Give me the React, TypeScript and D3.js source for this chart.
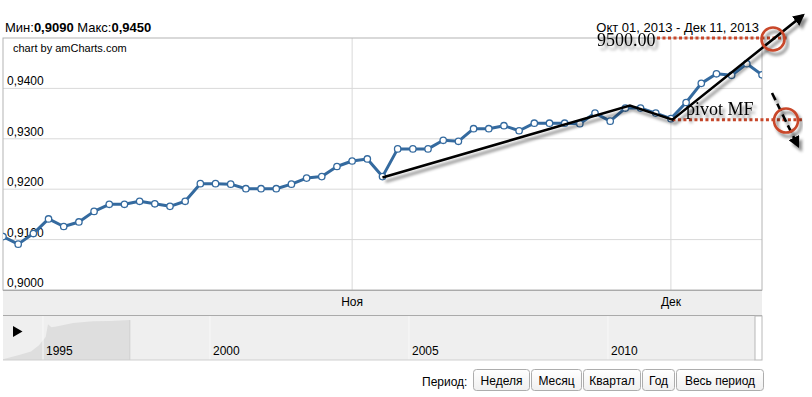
import React from "react";
import * as d3 from "d3";

// ---- data ----
const values: number[] = [
  0.9106, 0.9091, 0.9112, 0.9141, 0.9126, 0.9135, 0.9156, 0.917, 0.917, 0.9176,
  0.9171, 0.9166, 0.9176, 0.9211, 0.9211, 0.921, 0.9201, 0.9201, 0.9201, 0.921,
  0.9222, 0.9225, 0.9245, 0.9256, 0.926, 0.9225, 0.928, 0.928, 0.928, 0.9297,
  0.9295, 0.932, 0.932, 0.9326, 0.9316, 0.9331, 0.9331, 0.9331, 0.933, 0.9351,
  0.9335, 0.9361, 0.9361, 0.9351, 0.934, 0.9372, 0.941, 0.9429, 0.9426, 0.9449,
  0.9427,
];
const yTicks: number[] = [0.9, 0.91, 0.92, 0.93, 0.94];
const monthLabels: string[] = ["Ноя", "Дек"];
const monthIndex: number[] = [23, 44];
const scrollYears: number[] = [1995, 2000, 2005, 2010];
const historyYears: number[] = [1994.0, 1994.4, 1994.7, 1994.9, 1995.08, 1995.15, 1995.25, 1995.4, 1995.9, 1996.5, 1997.0, 1997.6];
const historyValues: number[] = [0.02, 0.12, 0.2, 0.35, 0.55, 0.85, 0.78, 0.8, 0.88, 0.92, 0.93, 0.95];
const periodButtons: string[] = ["Неделя", "Месяц", "Квартал", "Год", "Весь период"];
const minValue = "0,9090";
const maxValue = "0,9450";
const dateRange = "Окт 01, 2013 - Дек 11, 2013";
// annotation trend line (index, value)
const trendIdx: number[] = [25, 41.3, 44.1, 52.7];
const trendVal: number[] = [0.9223, 0.9366, 0.9338, 0.9545];
const level1 = 0.95;
const level2 = 0.9338;

const W = 812;
const H = 397;
const L = 3, R = 762, T = 38, B = 290;
const SANS = "'Liberation Sans', Arial, sans-serif";
const SERIF = "'Liberation Serif', 'Times New Roman', serif";
const BLUE = "#346a9f";
const RED = "#c9472a";

export default function App() {
  const x = d3.scaleLinear().domain([0, values.length - 1]).range([L, R]);
  const y = d3.scaleLinear().domain([0.9, 0.95]).range([B, T]);
  const line = d3.line<number>().x((_, i) => x(i)).y((d) => y(d));

  const yrX = d3.scaleLinear().domain([1994, 1995, 2000, 2010]).range([L, 43, 210, 608]);
  const hy = d3.scaleLinear().domain([0, 1]).range([360, 318]);
  const area = d3
    .area<number>()
    .x((_, i) => yrX(historyYears[i]))
    .y0(360)
    .y1((d) => hy(d));

  const trend = d3.line<number>().x((d) => x(d)).y((_, i) => y(trendVal[i]));
  const trendPts = trendIdx.slice(0, 4);

  // buttons layout
  const btnW = [56, 50, 57, 32, 87];
  const btnStarts: number[] = [];
  let acc = 473;
  btnW.forEach((w) => {
    btnStarts.push(acc);
    acc += w + 2;
  });

  return (
    <svg width={W} height={H} style={{ position: "absolute", left: 0, top: 0, background: "#fff" }}>
      <defs>
        <clipPath id="plotclip">
          <rect x={L} y={T} width={R - L} height={B - T} />
        </clipPath>
        <filter id="shadow" x="-20%" y="-20%" width="140%" height="160%">
          <feDropShadow dx="3" dy="4" stdDeviation="1.6" floodColor="#000" floodOpacity="0.45" />
        </filter>
        <marker id="arrow" viewBox="0 0 10 10" refX="8" refY="5" markerWidth="4.5" markerHeight="4.5" orient="auto">
          <path d="M0,0 L10,5 L0,10 z" fill="#000" />
        </marker>
        <linearGradient id="btn" x1="0" y1="0" x2="0" y2="1">
          <stop offset="0" stopColor="#ffffff" />
          <stop offset="1" stopColor="#f0f0f0" />
        </linearGradient>
      </defs>

      {/* header */}
      <text x={5} y={32} fontFamily={SANS} fontSize={13} fill="#000">
        <tspan>Мин:</tspan>
        <tspan fontWeight="bold">{minValue}</tspan>
        <tspan> Макс:</tspan>
        <tspan fontWeight="bold">{maxValue}</tspan>
      </text>
      <text x={759} y={32} textAnchor="end" fontFamily={SANS} fontSize={13} fill="#000">
        {dateRange}
      </text>

      {/* grid */}
      {yTicks.slice(1).map((t) => (
        <line key={t} x1={L} x2={R} y1={y(t)} y2={y(t)} stroke="#d9d9d9" />
      ))}
      {monthIndex.map((m) => (
        <line key={m} x1={x(m)} x2={x(m)} y1={T} y2={B} stroke="#d9d9d9" />
      ))}
      <rect x={L} y={T} width={R - L} height={B - T} fill="none" stroke="#b4b4b4" />

      <text x={13} y={52} fontFamily={SANS} fontSize={11} fill="#000">
        chart by amCharts.com
      </text>

      {yTicks.map((t) => (
        <text key={"l" + t} x={7} y={y(t) - 3} fontFamily={SANS} fontSize={12} fill="#000">
          {d3.format(".4f")(t).replace(".", ",")}
        </text>
      ))}

      {/* data */}
      <g clipPath="url(#plotclip)">
        <path d={line(values) || ""} fill="none" stroke={BLUE} strokeWidth={3} strokeLinejoin="round" />
        {values.map((v, i) => (
          <circle key={i} cx={x(i)} cy={y(v)} r={3.2} fill="#fff" stroke={BLUE} strokeWidth={1.3} />
        ))}
      </g>

      {/* category axis band */}
      <rect x={L} y={B} width={R - L} height={25} fill="#eeeeee" />
      <line x1={L} x2={R} y1={B + 0.5} y2={B + 0.5} stroke="#aaaaaa" />
      <line x1={L} x2={R} y1={315.5} y2={315.5} stroke="#aaaaaa" />
      {monthIndex.map((m, i) => (
        <text key={"m" + m} x={x(m)} y={306} textAnchor="middle" fontFamily={SANS} fontSize={12} fill="#000">
          {monthLabels[i]}
        </text>
      ))}

      {/* scrollbar */}
      <rect x={L} y={316} width={755 - L} height={44} fill="#efefef" />
      <path d={area(historyValues) || ""} fill="#dedede" />
      <line x1={yrX(1997.6)} x2={yrX(1997.6)} y1={hy(0.95)} y2={360} stroke="#d0d0d0" />
      {scrollYears.map((yr) => (
        <g key={yr}>
          <line x1={yrX(yr)} x2={yrX(yr)} y1={316} y2={360} stroke="#f8f8f8" />
          <text x={yrX(yr) + 3} y={355} fontFamily={SANS} fontSize={12} fill="#000">
            {yr}
          </text>
        </g>
      ))}
      <line x1={L} x2={755} y1={360} y2={360} stroke="#cfcfcf" />
      <rect x={755} y={316} width={R - 755} height={44} fill="#ffffff" stroke="#b8b8b8" />
      <path d="M13,326 L13,337 L22.5,331.5 Z" fill="#000" />

      {/* period selector */}
      <text x={422} y={386} fontFamily={SANS} fontSize={12} fill="#000">
        Период:
      </text>
      {periodButtons.map((b, i) => (
        <g key={b}>
          <rect x={btnStarts[i] + 0.5} y={369.5} width={btnW[i]} height={21} rx={3} fill="url(#btn)" stroke="#adadad" />
          <text x={btnStarts[i] + btnW[i] / 2 + 0.5} y={385} textAnchor="middle" fontFamily={SANS} fontSize={12} fill="#000">
            {b}
          </text>
        </g>
      ))}

      {/* annotations */}
      <line x1={657} x2={788} y1={y(level1)} y2={y(level1)} stroke={RED} strokeWidth={3} strokeDasharray="3,2.5" />
      <line x1={x(44.1)} x2={802} y1={y(level2)} y2={y(level2)} stroke={RED} strokeWidth={3} strokeDasharray="3,2.5" />
      <text x={597} y={46} fontFamily={SERIF} fontSize={18} fill="#000" filter="url(#shadow)">
        9500.00
      </text>
      <text x={686} y={115} fontFamily={SERIF} fontSize={18} fill="#000" filter="url(#shadow)">
        pivot MF
      </text>
      <g filter="url(#shadow)">
        <path
          d={trend(trendPts) || ""}
          fill="none"
          stroke="#000"
          strokeWidth={2.6}
          strokeLinejoin="miter"
          markerEnd="url(#arrow)"
        />
        <line x1={772} y1={93} x2={798} y2={146} stroke="#000" strokeWidth={2.6} strokeDasharray="8,4" markerEnd="url(#arrow)" />
      </g>
      <circle cx={773} cy={39} r={11.5} fill="none" stroke={RED} strokeWidth={2.6} filter="url(#shadow)" />
      <circle cx={786} cy={120.5} r={12} fill="none" stroke={RED} strokeWidth={2.6} filter="url(#shadow)" />
    </svg>
  );
}
